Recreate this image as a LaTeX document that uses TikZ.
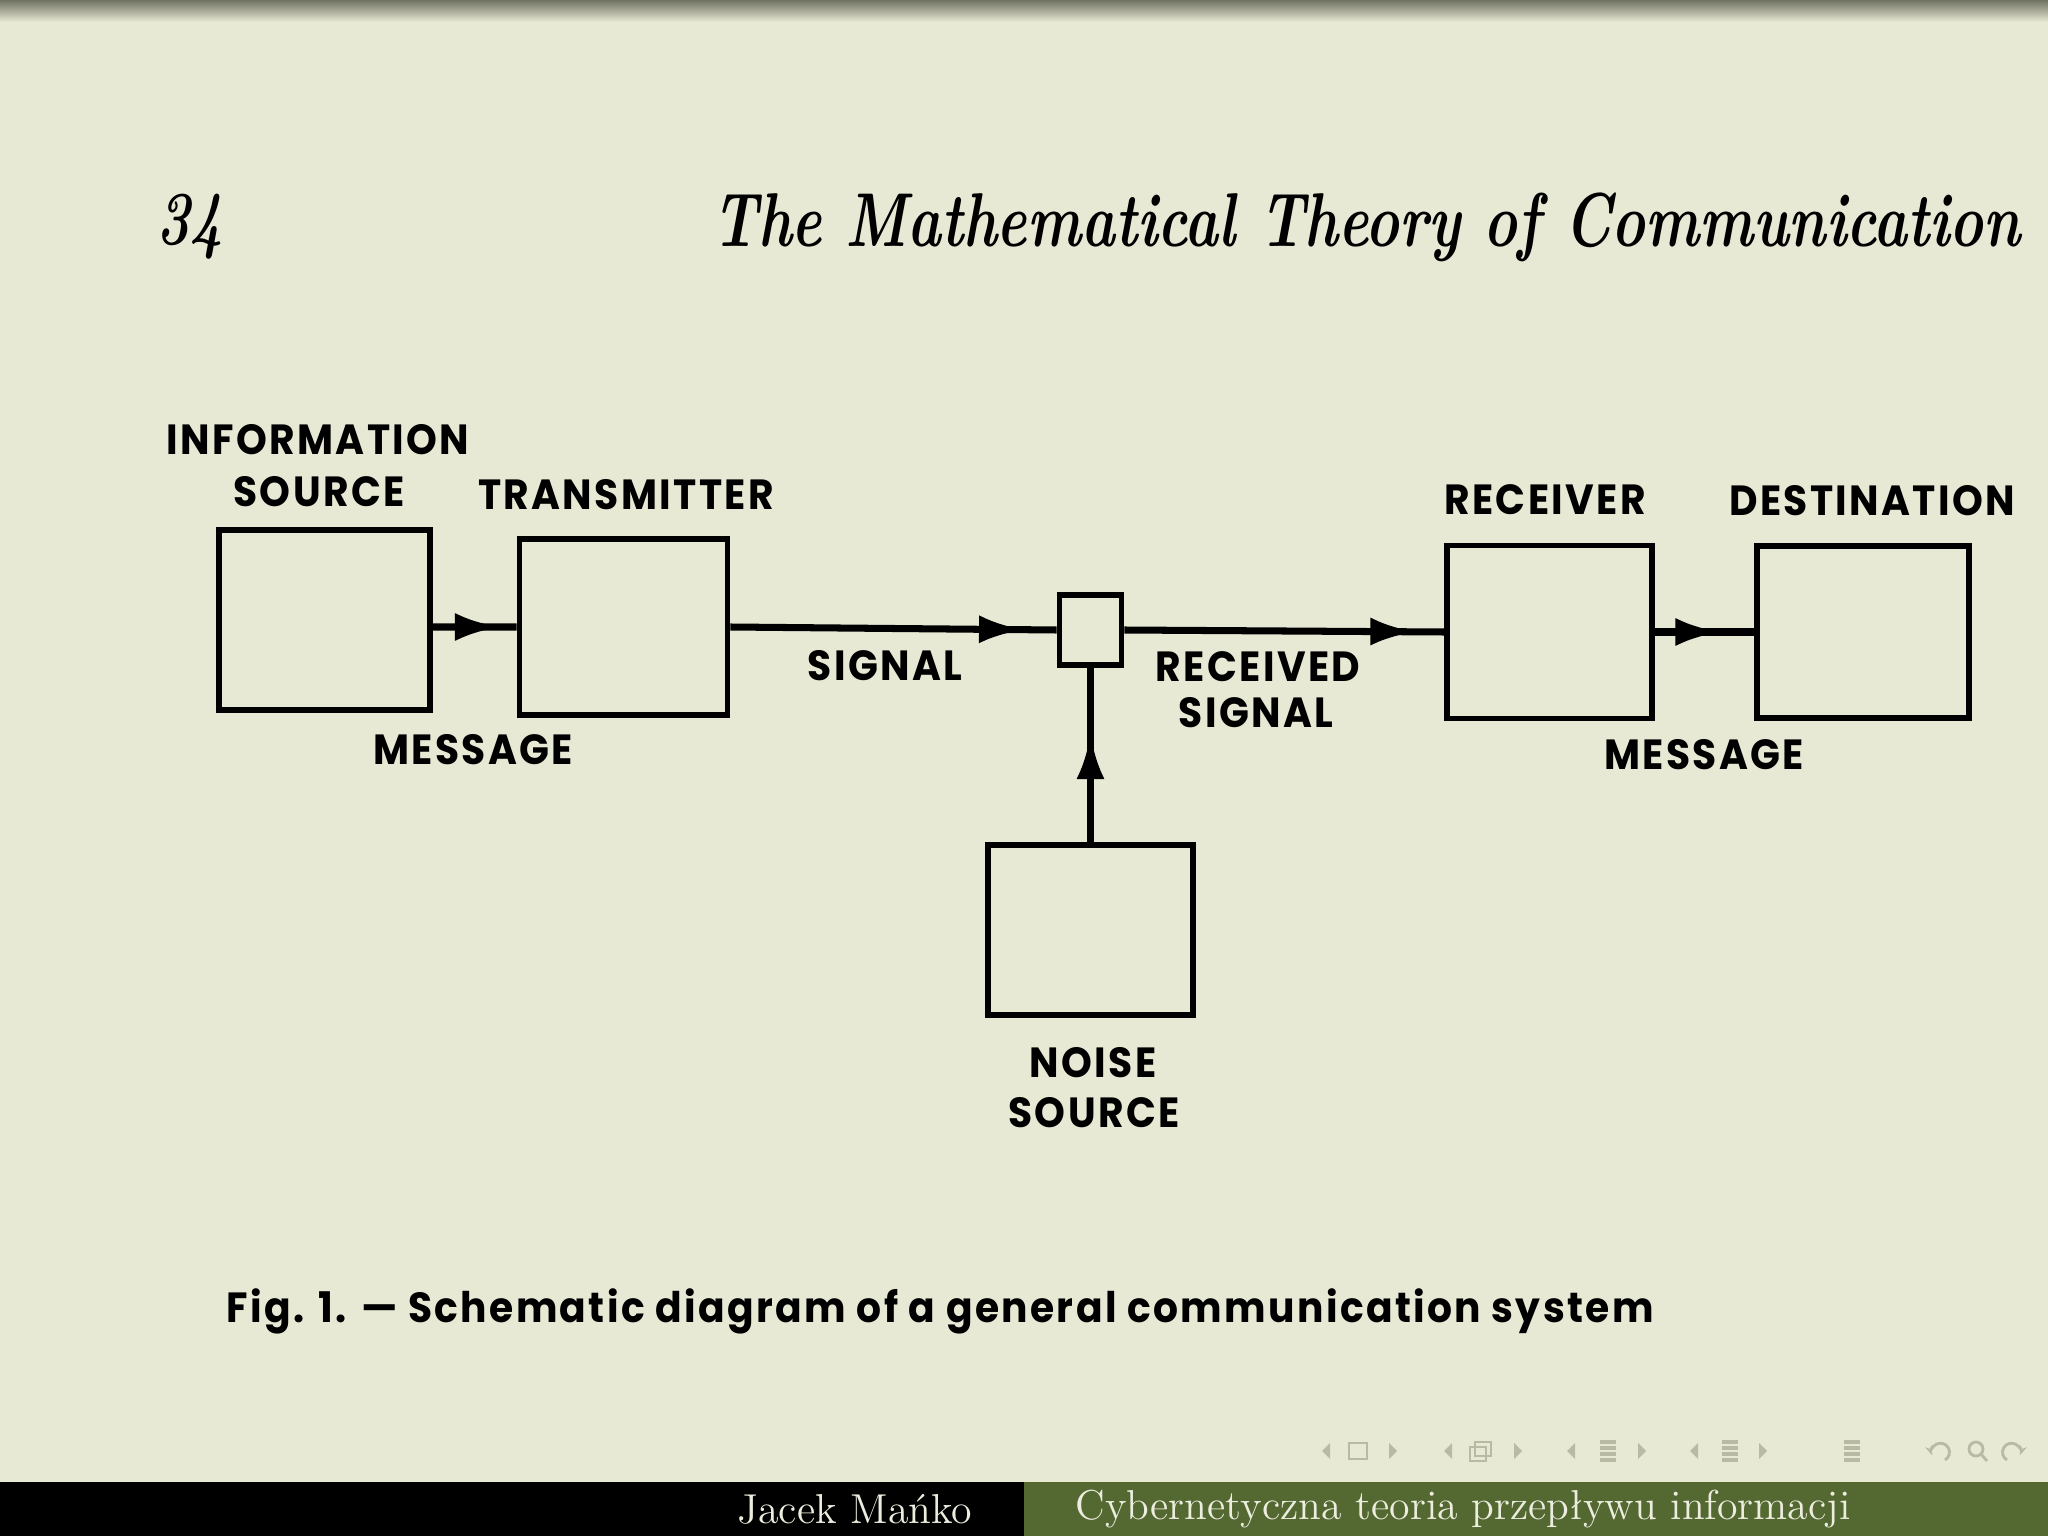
\documentclass[tikz,border=0pt]{standalone}
\usepackage{fontspec}
\usetikzlibrary{arrows.meta,decorations.markings,positioning}
\newfontfamily\shannonfont{Poppins}[LetterSpace=6]
\definecolor{slidebg}{RGB}{232,233,213}
\definecolor{headshade}{RGB}{112,114,98}
\definecolor{footgreen}{RGB}{84,105,49}
\definecolor{navgray}{RGB}{184,186,164}
\definecolor{foottext}{RGB}{236,237,222}

\tikzset{
    blok/.style={draw, line width=1.6pt, minimum width=2.08cm, minimum height=1.76cm, inner sep=0pt},
    tag/.style={font=\shannonfont\bfseries\fontsize{12}{12}\selectfont, inner sep=0pt, xscale=0.93},
    sig/.style={line width=2pt},
    tip at/.style={postaction={decorate},
        decoration={markings, mark=at position #1 with {\arrow{Latex[length=4.5mm,width=2.8mm]}}}},
    booktitle/.style={font=\bfseries\itshape\fontsize{21.7}{22}\selectfont, inner sep=0pt, xscale=0.75},
    footer/.style={font=\fontsize{11.9}{13}\selectfont, text=foottext, inner sep=0pt},
    navicon/.style={draw=navgray, line width=0.8pt},
}

\begin{document}
\begin{tikzpicture}[x=1cm,y=-1cm]
    % slide
    \fill[slidebg] (0,0) rectangle (20.48,15.36);
    \shade[top color=headshade, bottom color=slidebg] (0,0) rectangle (20.48,0.22);
    \fill[black] (0,14.82) rectangle (10.24,15.36);
    \fill[footgreen] (10.24,14.82) rectangle (20.48,15.36);
    \node[footer, anchor=east] (author) at (9.73,15.09) {Jacek Mańko};
    \node[footer, anchor=west] (talk) at (10.75,15.09) {Cybernetyczna teoria przepływu informacji};

    % page head
    \node[booktitle] (page) at (1.90,2.27) {34};
    \node[booktitle, anchor=west] (book) at (7.12,2.27) {The Mathematical Theory of Communication};

    % blocks
    \node[blok, minimum width=2.11cm, minimum height=1.80cm] (info) at (3.245,6.20) {};
    \node[blok] (trans) at (6.235,6.27) {};
    \node[blok, minimum width=0.62cm, minimum height=0.70cm] (mix) at (10.905,6.30) {};
    \node[blok, minimum width=2.05cm, minimum height=1.73cm] (recv) at (15.495,6.32) {};
    \node[blok, minimum width=2.12cm, minimum height=1.72cm] (dest) at (18.63,6.32) {};
    \node[blok, minimum width=2.05cm, minimum height=1.70cm] (noise) at (10.905,9.30) {};

    % connectors
    \draw[sig, tip at=0.80] ([yshift=-0.7mm]info.east) -- (trans.west);
    \draw[sig, tip at=0.90] (trans.east) -- (mix.west);
    \draw[sig, tip at=0.91] (mix.east) -- (recv.west);
    \draw[sig, tip at=0.66] (recv.east) -- (dest.west);
    \draw[sig, tip at=0.62] (noise.north) -- (mix.south);

    % labels
    \node[tag] (lbl-info1) at (3.18,4.40) {INFORMATION};
    \node[tag] (lbl-info2) at (3.19,4.92) {SOURCE};
    \node[tag] (lbl-trans) at (6.26,4.95) {TRANSMITTER};
    \node[tag] (lbl-recv) at (15.45,5.00) {RECEIVER};
    \node[tag] (lbl-dest) at (18.72,5.01) {DESTINATION};
    \node[tag] (lbl-sig) at (8.85,6.66) {SIGNAL};
    \node[tag] (lbl-msg1) at (4.73,7.50) {MESSAGE};
    \node[tag] (lbl-rsig1) at (12.58,6.67) {RECEIVED};
    \node[tag] (lbl-rsig2) at (12.56,7.13) {SIGNAL};
    \node[tag] (lbl-msg2) at (17.04,7.55) {MESSAGE};
    \node[tag] (lbl-noise1) at (10.93,10.63) {NOISE};
    \node[tag] (lbl-noise2) at (10.94,11.13) {SOURCE};
    \node[tag, anchor=west] (caption) at (2.26,13.11) {Fig. 1. — Schematic diagram of a general communication system};

    % navigation symbols
    \foreach \x in {13.22,14.44,15.67,16.90} \fill[navgray] (\x,14.51) -- ++(0.08,-0.08) -- ++(0,0.16) -- cycle;
    \foreach \x in {13.97,15.22,16.46,17.67} \fill[navgray] (\x,14.51) -- ++(-0.08,-0.08) -- ++(0,0.16) -- cycle;
    \draw[navicon] (13.49,14.43) rectangle ++(0.18,0.16);
    \draw[navicon] (14.70,14.47) rectangle ++(0.16,0.14);
    \draw[navicon] (14.75,14.42) rectangle ++(0.16,0.14);
    \foreach \x in {16.08,17.30,18.52}
        \foreach \y in {14.42,14.48,14.54,14.60} \draw[navgray, line width=1.3pt] (\x-0.08,\y) -- (\x+0.08,\y);
    \draw[navicon, -{Stealth[length=1mm]}] (19.45,14.60) arc (60:-200:0.09);
    \draw[navicon] (19.76,14.49) circle (0.07);
    \draw[navicon] (19.81,14.54) -- (19.87,14.61);
    \draw[navicon, -{Stealth[length=1mm]}] (20.07,14.60) arc (120:380:0.09);
\end{tikzpicture}
\end{document}
